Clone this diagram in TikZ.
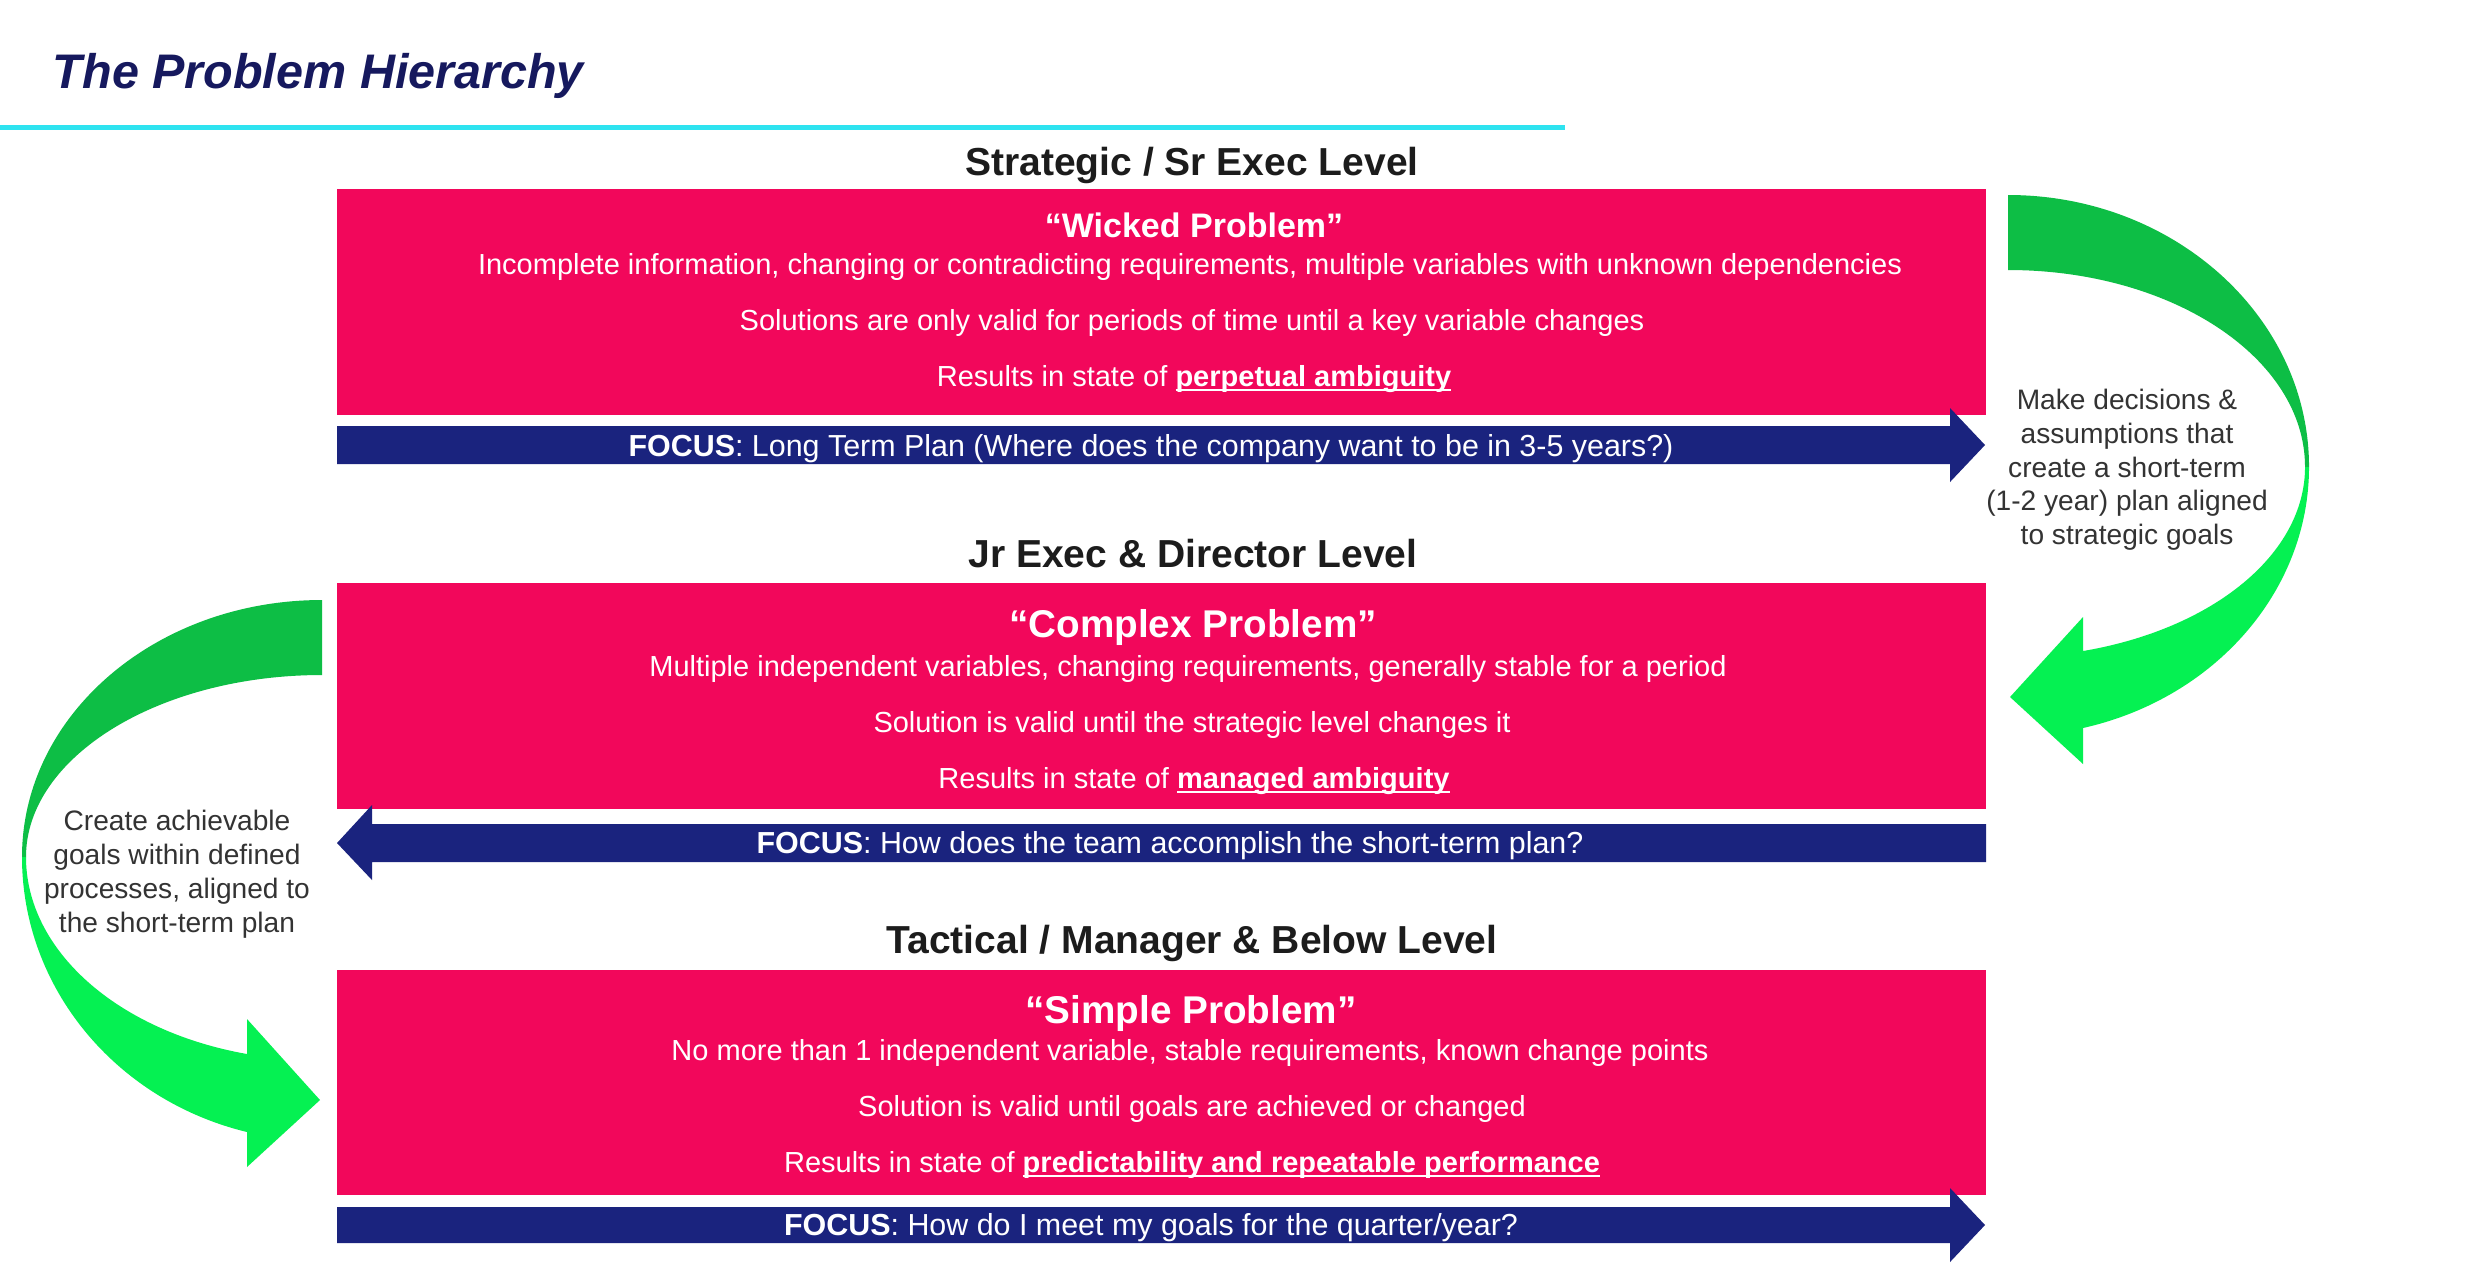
\documentclass[tikz,border=0pt]{standalone}
\usepackage{fontspec}
\setmainfont{Liberation Sans}
\definecolor{pinkc}{HTML}{F2075B}
\definecolor{navyc}{HTML}{1A237E}
\definecolor{gdark}{HTML}{0DBE45}
\definecolor{glight}{HTML}{05F152}
\definecolor{titlec}{HTML}{16195E}
\definecolor{cyanc}{HTML}{2EE3F0}
\definecolor{headc}{HTML}{1C1C1C}
\definecolor{sidec}{HTML}{333333}
\newcommand\myul[1]{\setbox0\hbox{#1}\rlap{\rule[-1.4pt]{\wd0}{0.6pt}}\box0}
\begin{document}
\begin{tikzpicture}[x=0.01cm,y=-0.01cm,
 body/.style={anchor=base, inner sep=0, text=white, font=\fontsize{8.25}{10}\selectfont},
 ptitle/.style={anchor=base, inner sep=0, text=white, font=\bfseries\fontsize{11}{13}\selectfont},
 head/.style={anchor=base, inner sep=0, text=headc, font=\bfseries\fontsize{11.1}{13}\selectfont},
 focus/.style={anchor=base, inner sep=0, text=white, font=\fontsize{8.65}{10}\selectfont},
 side/.style={anchor=base, inner sep=0, text=sidec, font=\fontsize{8}{10}\selectfont},
 pinkbox/.style={fill=pinkc},
 navyarrow/.style={fill=navyc},
]
\useasboundingbox (0,0) rectangle (2483,1269);
\fill[white] (0,0) rectangle (2483,1269);

% title
\node[anchor=base west, inner sep=0, text=titlec, font=\bfseries\itshape\fontsize{13.8}{16}\selectfont] (title) at (52,88) {The Problem Hierarchy};
\fill[cyanc] (0,125) rectangle (1565,130);

% boxes
\fill[pinkbox] (337,189) rectangle (1986,415);
\fill[pinkbox] (337,583) rectangle (1986,809);
\fill[pinkbox] (337,970) rectangle (1986,1195);

% focus arrows
\fill[navyarrow] (337,426) -- (1950,426) -- (1950,408) -- (1985,445) -- (1950,482) -- (1950,464) -- (337,464) -- cycle;
\fill[navyarrow] (1986,824) -- (372,824) -- (372,805) -- (337,843) -- (372,880) -- (372,862) -- (1986,862) -- cycle;
\fill[navyarrow] (337,1207) -- (1950,1207) -- (1950,1188) -- (1985,1225) -- (1950,1262) -- (1950,1243) -- (337,1243) -- cycle;

% right green arrow
\fill[gdark] (2008,195) .. controls (2174,195) and (2309,317) .. (2309,467) -- (2305,467) .. controls (2305,358) and (2172,270) .. (2008,270) -- cycle;
\fill[glight] (2309,467) .. controls (2309,590) and (2216,698) .. (2083,728) -- (2083,764) -- (2010,697) -- (2083,617) -- (2083,651) .. controls (2213,629) and (2305,554) .. (2305,467) -- cycle;

% left green arrow
\fill[gdark] (322,600) .. controls (156,600) and (22,715) .. (22,857) -- (26,857) .. controls (26,757) and (159,675) .. (322,675) -- cycle;
\fill[glight] (22,857) .. controls (22,987) and (115,1100) .. (247,1132) -- (247,1167) -- (320,1100) -- (247,1019) -- (247,1054) .. controls (117,1031) and (26,950) .. (26,857) -- cycle;

% level 1
\node[head] (h1) at (1192,175) {Strategic / Sr Exec Level};
\node[ptitle, font=\bfseries\fontsize{9.67}{12}\selectfont] (t1) at (1194,237) {“Wicked Problem”};
\node[body] (a1) at (1190,274) {Incomplete information, changing or contradicting requirements, multiple variables with unknown dependencies};
\node[body] (a2) at (1192,330) {Solutions are only valid for periods of time until a key variable changes};
\node[body] (a3) at (1194,386) {Results in state of \myul{\textbf{perpetual ambiguity}}};
\node[focus] (f1) at (1151,456) {\textbf{FOCUS}: Long Term Plan (Where does the company want to be in 3-5 years?)};

% level 2
\node[head] (h2) at (1193,567) {Jr Exec \& Director Level};
\node[ptitle] (t2) at (1193,637) {“Complex Problem”};
\node[body] (b1) at (1188,676) {Multiple independent variables, changing requirements, generally stable for a period};
\node[body] (b2) at (1192,732) {Solution is valid until the strategic level changes it};
\node[body] (b3) at (1194,788) {Results in state of \myul{\textbf{managed ambiguity}}};
\node[focus] (f2) at (1170,853) {\textbf{FOCUS}: How does the team accomplish the short-term plan?};

% level 3
\node[head] (h3) at (1192,953) {Tactical / Manager \& Below Level};
\node[ptitle] (t3) at (1191,1023) {“Simple Problem”};
\node[body] (c1) at (1190,1060) {No more than 1 independent variable, stable requirements, known change points};
\node[body] (c2) at (1192,1116) {Solution is valid until goals are achieved or changed};
\node[body] (c3) at (1192,1172) {Results in state of \myul{\textbf{predictability and repeatable performance}}};
\node[focus] (f3) at (1151,1235) {\textbf{FOCUS}: How do I meet my goals for the quarter/year?};

% side texts
\node[side] (r1) at (2127,409) {Make decisions \&};
\node[side] (r2) at (2127,443) {assumptions that};
\node[side] (r3) at (2127,477) {create a short-term};
\node[side] (r4) at (2127,510) {(1-2 year) plan aligned};
\node[side] (r5) at (2127,544) {to strategic goals};

\node[side] (l1) at (177,830) {Create achievable};
\node[side] (l2) at (177,864) {goals within defined};
\node[side] (l3) at (177,898) {processes, aligned to};
\node[side] (l4) at (177,932) {the short-term plan};
\end{tikzpicture}
\end{document}
